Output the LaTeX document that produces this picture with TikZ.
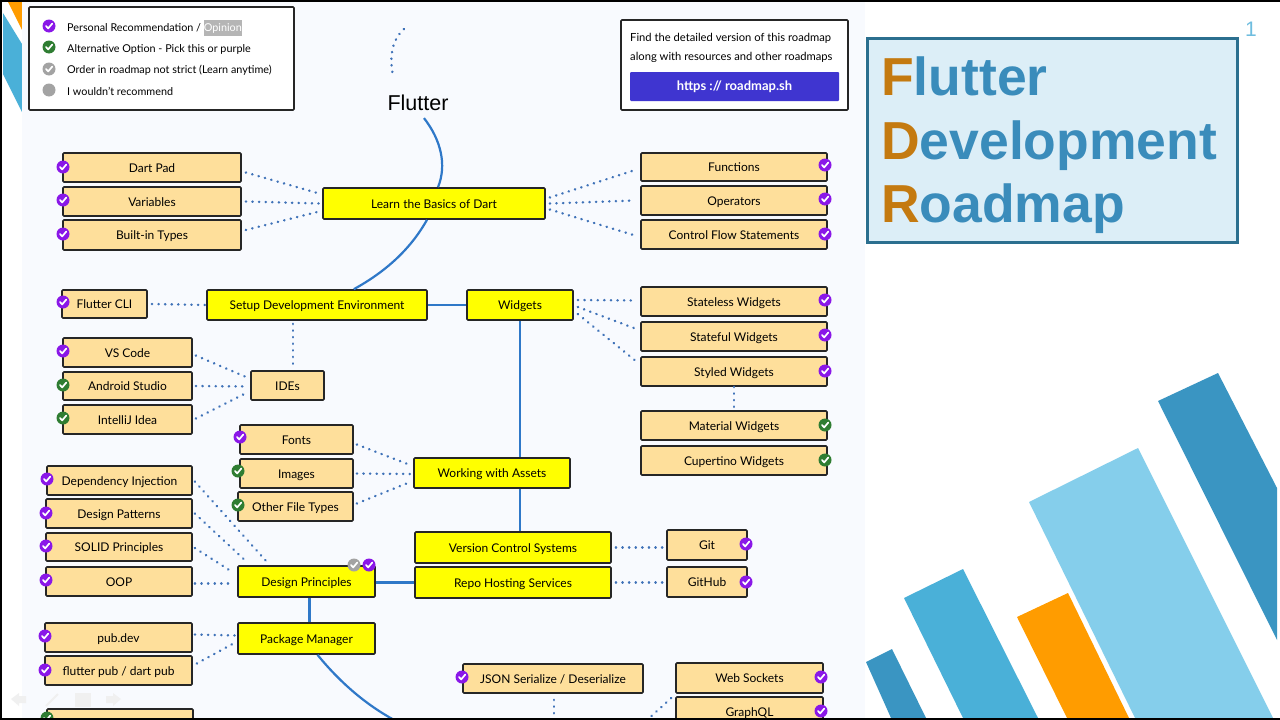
\documentclass[tikz,border=0pt]{standalone}
\usepackage{fontspec}
\setmainfont{Lato}
\newfontfamily\titlefont{Liberation Sans}
\usetikzlibrary{positioning, calc}
\definecolor{panelbg}{HTML}{F8FAFE}
\definecolor{topicfill}{HTML}{FEDF9B}
\definecolor{mainfill}{HTML}{FFFF00}
\definecolor{linkblue}{HTML}{2F78C8}
\definecolor{dotblue}{HTML}{3F72B8}
\definecolor{chkpurple}{HTML}{8A17E8}
\definecolor{chkgreen}{HTML}{2F7D32}
\definecolor{chkgray}{HTML}{A3A3A3}
\definecolor{btnblue}{HTML}{3F35D0}
\definecolor{titlefill}{HTML}{DCEEF7}
\definecolor{titleline}{HTML}{2B6F8F}
\definecolor{titleblue}{HTML}{3A8CBB}
\definecolor{titleorange}{HTML}{C47A10}
\definecolor{bardark}{HTML}{3A95C2}
\definecolor{barmid}{HTML}{4AB0D8}
\definecolor{barlight}{HTML}{85CEEB}
\definecolor{barorange}{HTML}{FF9C00}
\tikzset{
  topic/.style={draw=black!85, fill=topicfill, line width=1.6pt, rounded corners=1pt, font=\fontsize{12}{14}\selectfont, inner sep=0pt, text height=9pt, text depth=0pt},
  mainbox/.style={topic, fill=mainfill},
  link/.style={draw=linkblue, line width=2.2pt},
  dots/.style={draw=dotblue, line width=2.5pt, line cap=round, dash pattern=on 0.3pt off 6.3pt},
  legendtext/.style={font=\fontsize{10.8}{12}\selectfont, anchor=west, inner sep=0pt},
  findtext/.style={font=\fontsize{11.2}{13}\selectfont, anchor=west, inner sep=0pt},
  whitebox/.style={draw=black!85, fill=white, line width=1.6pt, rounded corners=1pt},
  bigline/.style={font=\titlefont\bfseries\fontsize{53.5}{60}\selectfont, color=titleblue, anchor=base west, inner sep=0pt},
}
% check mark: colour, x, y
\newcommand{\chkmark}[3]{
  \fill[#1] (#2,#3) circle (6.5);
  \draw[white, line width=1.7pt, line cap=round, line join=round] (#2-3,#3) -- (#2-0.8,#3+2.4) -- (#2+3.2,#3-2.4);
}
% box: style, name, left, top, right, bottom, text
\newcommand{\boxat}[7]{
  \node[#1, minimum width=#5-#3, minimum height=#6-#4] (#2) at ({(#3+#5)/2},{(#4+#6)/2}) {#7};
}
\begin{document}
\begin{tikzpicture}[x=1pt, y=-1pt]
    \useasboundingbox (0,0) rectangle (1280,720);
    \clip (0,0) rectangle (1280,720);
    \fill[white] (0,0) rectangle (1280,720);

    % Draw slide decoration
    \fill[barorange] (7,0) -- (22,0) -- (22,30) -- cycle;
    \fill[barmid] (3,13) -- (22,44) -- (22,112) -- (3,74) -- cycle;
    \fill[panelbg] (22,0) rectangle (865,720);

    % Draw bars
    \fill[bardark] (1158,401) -- (1218,373) -- (1277,488) -- (1277,640) -- cycle;
    \fill[barlight] (1029,502) -- (1138,448) -- (1273,718) -- (1135,718) -- cycle;
    \fill[barorange] (1017,617) -- (1068,593) -- (1129,718) -- (1067,718) -- cycle;
    \fill[barmid] (904,598) -- (963,569) -- (1038,718) -- (963,718) -- cycle;
    \fill[bardark] (866,662) -- (892,649) -- (926,718) -- (891,718) -- cycle;

    % Draw title box
    \node[draw=titleline, fill=titlefill, line width=3pt, minimum width=370pt, minimum height=204pt] (titlebox) at (1052,140) {};
    \node[bigline] (line1) at (881,95) {\textcolor{titleorange}{F}lutter};
    \node[bigline] (line2) at (881,159) {\textcolor{titleorange}{D}evelopment};
    \node[bigline] (line3) at (881,222) {\textcolor{titleorange}{R}oadmap};
    \node[font=\titlefont\fontsize{21}{24}\selectfont, color=barlight!70!bardark, inner sep=0pt] (pagenum) at (1251,29) {1};

    % Draw legend
    \boxat{whitebox}{legend}{29}{7}{294}{110}{}
    \node[legendtext] (leg1) at (67,28) {Personal Recommendation / \colorbox{chkgray!80}{\hspace{-3pt}\textcolor{white}{Opinion}\hspace{-3pt}}};
    \node[legendtext] (leg2) at (67,49) {Alternative Option - Pick this or purple};
    \node[legendtext] (leg3) at (67,70) {Order in roadmap not strict (Learn anytime)};
    \node[legendtext] (leg4) at (67,91) {I wouldn't recommend};
    \chkmark{chkpurple}{49}{26}
    \chkmark{chkgreen}{49}{47}
    \chkmark{chkgray}{49}{69}
    \fill[chkgray] (49,90) circle (6.5);

    % Draw link box
    \boxat{whitebox}{roadmapbox}{621}{20}{848}{110}{}
    \node[findtext] (find1) at (630,38) {Find the detailed version of this roadmap};
    \node[findtext] (find2) at (630,57) {along with resources and other roadmaps};
    \node[fill=btnblue, rounded corners=1pt, text=white, font=\bfseries\fontsize{13}{15}\selectfont, minimum width=209pt, minimum height=29pt, inner sep=0pt] (button) at (734.5,86.5) {https :// roadmap.sh};

    % Draw main boxes
    \node[font=\titlefont\fontsize{21.5}{24}\selectfont, inner sep=0pt] (flutter) at (418,103) {Flutter};
    \boxat{mainbox}{basics}{323}{188}{545}{219}{Learn the Basics of Dart}
    \boxat{mainbox}{setup}{207}{290}{427}{320}{Setup Development Environment}
    \boxat{mainbox}{widgets}{467}{290}{573}{320}{Widgets}
    \boxat{mainbox}{assets}{414}{458}{570}{488}{Working with Assets}
    \boxat{mainbox}{vcs}{415}{532}{611}{563}{Version Control Systems}
    \boxat{mainbox}{repo}{415}{567}{611}{598}{Repo Hosting Services}
    \boxat{mainbox}{design}{238}{566}{375}{597}{Design Principles}
    \boxat{mainbox}{package}{238}{623}{375}{654}{Package Manager}
    \boxat{topic}{ides}{251}{371}{324}{400}{IDEs}

    % Draw topic boxes
    \boxat{topic}{dartpad}{63}{153}{241}{182}{Dart Pad}
    \boxat{topic}{variables}{63}{187}{241}{216}{Variables}
    \boxat{topic}{builtin}{63}{220}{241}{250}{Built-in Types}
    \boxat{topic}{functions}{641}{153}{827}{181}{Functions}
    \boxat{topic}{operators}{641}{186}{827}{215}{Operators}
    \boxat{topic}{control}{641}{220}{827}{249}{Control Flow Statements}
    \boxat{topic}{cli}{62}{290}{147}{318}{Flutter CLI}
    \boxat{topic}{stateless}{641}{287}{827}{316}{Stateless Widgets}
    \boxat{topic}{stateful}{641}{322}{827}{351}{Stateful Widgets}
    \boxat{topic}{styled}{641}{357}{827}{386}{Styled Widgets}
    \boxat{topic}{material}{641}{411}{827}{440}{Material Widgets}
    \boxat{topic}{cupertino}{641}{446}{827}{475}{Cupertino Widgets}
    \boxat{topic}{vscode}{63}{338}{192}{367}{VS Code}
    \boxat{topic}{android}{63}{372}{192}{400}{Android Studio}
    \boxat{topic}{intellij}{63}{405}{192}{434}{IntelliJ Idea}
    \boxat{topic}{fonts}{240}{425}{353}{454}{Fonts}
    \boxat{topic}{images}{240}{459}{353}{488}{Images}
    \boxat{topic}{otherfiles}{238}{492}{353}{521}{Other File Types}
    \boxat{topic}{depinj}{47}{466}{192}{495}{Dependency Injection}
    \boxat{topic}{patterns}{46}{499}{192}{528}{Design Patterns}
    \boxat{topic}{solid}{46}{533}{192}{561}{SOLID Principles}
    \boxat{topic}{oop}{46}{567}{192}{596}{OOP}
    \boxat{topic}{git}{667}{530}{747}{560}{Git}
    \boxat{topic}{github}{667}{567}{747}{597}{GitHub}
    \boxat{topic}{pubdev}{45}{623}{192}{652}{pub.dev}
    \boxat{topic}{flutterpub}{45}{656}{192}{685}{flutter pub / dart pub}
    \boxat{topic}{json}{463}{664}{643}{693}{JSON Serialize / Deserialize}
    \boxat{topic}{websockets}{676}{663}{823}{693}{Web Sockets}
    \boxat{topic}{graphql}{676}{697}{823}{727}{GraphQL}
    \boxat{topic}{cutbox}{47}{709}{193}{739}{}

    % Draw solid links
    \coordinate (pkgend) at (398,722);
    \draw[link] (flutter.south) ++(6,7) .. controls (441,140) and (447,165) .. ($(basics.north)+(4,0)$);
    \draw[link] ($(basics.south)+(-7,0)$) .. controls (410,250) and (385,272) .. ($(setup.north east)+(-74,0)$);
    \draw[link] (setup) -- (widgets);
    \draw[link] (widgets.south) -- (widgets.south |- assets.north);
    \draw[link] (widgets.south |- assets.south) -- (widgets.south |- vcs.north);
    \draw[link] (design.east |- repo) -- (repo.west);
    \draw[link] ($(design.south)+(3,0)$) -- ($(package.north)+(3,0)$);
    \draw[link] ($(package.south)+(11,0)$) .. controls (338,680) and (365,705) .. (pkgend);

    % Draw dotted links
    \coordinate (topstart) at (404,29);
    \coordinate (topend) at (393,76);
    \coordinate (idetop) at ($(ides.north)+(5.5,-3)$);
    \coordinate (graphend) at (645,722);
    \draw[dots] (topstart) .. controls (390,42) and (390,60) .. (topend);
    \draw[dots] ($(dartpad.east)+(4,5)$) -- ($(basics.west)+(-3,-10)$);
    \draw[dots] ($(variables.east)+(4,0)$) -- ($(basics.west)+(-3,0)$);
    \draw[dots] ($(builtin.east)+(4,-5)$) -- ($(basics.west)+(-3,8)$);
    \draw[dots] ($(basics.east)+(4,-6)$) -- ($(functions.west)+(-5,3)$);
    \draw[dots] ($(basics.east)+(4,0)$) -- ($(operators.west)+(-5,0)$);
    \draw[dots] ($(basics.east)+(4,6)$) -- ($(control.west)+(-5,1)$);
    \draw[dots] ($(cli.east)+(4,0)$) -- (setup.west);
    \draw[dots] (idetop |- setup.south) ++(0,3) -- (idetop);
    \draw[dots] ($(vscode.east)+(3,3)$) -- ($(ides.west)+(-3,-8)$);
    \draw[dots] ($(android.east)+(3,0)$) -- ($(ides.west)+(-3,1)$);
    \draw[dots] ($(intellij.east)+(3,-1)$) -- ($(ides.west)+(-3,7)$);
    \draw[dots] ($(widgets.east)+(4,-5)$) -- ($(stateless.west)+(-5,-1)$);
    \draw[dots] ($(widgets.east)+(4,2)$) -- ($(stateful.west)+(-5,-8)$);
    \draw[dots] ($(widgets.east)+(4,9)$) -- ($(styled.west)+(-5,-11)$);
    \draw[dots] (styled) -- (material);
    \draw[dots] ($(fonts.east)+(3,5)$) -- ($(assets.west)+(-3,-8)$);
    \draw[dots] ($(images.east)+(3,0)$) -- ($(assets.west)+(-3,1)$);
    \draw[dots] ($(otherfiles.east)+(3,-3)$) -- ($(assets.west)+(-3,9)$);
    \draw[dots] ($(depinj.east)+(2,1)$) -- ($(design.north west)+(30,-3)$);
    \draw[dots] ($(patterns.east)+(2,0)$) -- ($(design.north west)+(10,-3)$);
    \draw[dots] ($(solid.east)+(2,1)$) -- ($(design.west)+(-4,-9)$);
    \draw[dots] ($(oop.east)+(2,2)$) -- ($(design.west)+(-4,2)$);
    \draw[dots] ($(vcs.east)+(4,0)$) -- ($(vcs.east -| git.west)+(-2,0)$);
    \draw[dots] ($(repo.east)+(4,0)$) -- ($(repo.east -| github.west)+(-2,0)$);
    \draw[dots] ($(pubdev.east)+(2,-3)$) -- ($(package.west)+(-2,-3)$);
    \draw[dots] ($(flutterpub.east)+(4,-7)$) -- ($(package.west)+(-2,4)$);
    \draw[dots] ($(json.south)+(1,6)$) -- ($(json.south)+(1,30)$);
    \draw[dots] ($(graphql.west)+(-4,-14)$) -- (graphend);

    % Draw check marks
    \chkmark{chkpurple}{63}{167}
    \chkmark{chkpurple}{63}{200}
    \chkmark{chkpurple}{63}{234}
    \chkmark{chkpurple}{825}{165}
    \chkmark{chkpurple}{825}{199}
    \chkmark{chkpurple}{825}{234}
    \chkmark{chkpurple}{63}{302}
    \chkmark{chkpurple}{825}{300}
    \chkmark{chkpurple}{825}{335}
    \chkmark{chkpurple}{825}{371}
    \chkmark{chkgreen}{825}{425}
    \chkmark{chkgreen}{825}{460}
    \chkmark{chkpurple}{63}{351}
    \chkmark{chkgreen}{63}{385}
    \chkmark{chkgreen}{63}{418}
    \chkmark{chkpurple}{240}{437}
    \chkmark{chkgreen}{238}{471}
    \chkmark{chkgreen}{238}{505}
    \chkmark{chkpurple}{47}{479}
    \chkmark{chkpurple}{46}{513}
    \chkmark{chkpurple}{46}{546}
    \chkmark{chkpurple}{46}{580}
    \chkmark{chkgray}{354}{565}
    \chkmark{chkpurple}{369}{565}
    \chkmark{chkpurple}{746}{544}
    \chkmark{chkpurple}{746}{582}
    \chkmark{chkpurple}{45}{636}
    \chkmark{chkpurple}{45}{670}
    \chkmark{chkpurple}{462}{677}
    \chkmark{chkpurple}{821}{677}
    \chkmark{chkpurple}{821}{711}
    \chkmark{chkgreen}{47}{718}

    % Add slide controls
    \fill[black!6] (11,699) -- (19,693) -- (19,696) -- (26,696) -- (26,703) -- (19,703) -- (19,706) -- cycle;
    \draw[black!6, line width=2pt] (46,706) -- (58,694);
    \fill[black!6] (75,693) rectangle (91,707);
    \fill[black!6] (121,699) -- (113,693) -- (113,696) -- (106,696) -- (106,703) -- (113,703) -- (113,706) -- cycle;

    % Add frame
    \fill[black] (0,0) rectangle (1280,1.5);
    \fill[black] (0,0) rectangle (2,720);
    \fill[black] (0,718) rectangle (1280,720);
\end{tikzpicture}
\end{document}
